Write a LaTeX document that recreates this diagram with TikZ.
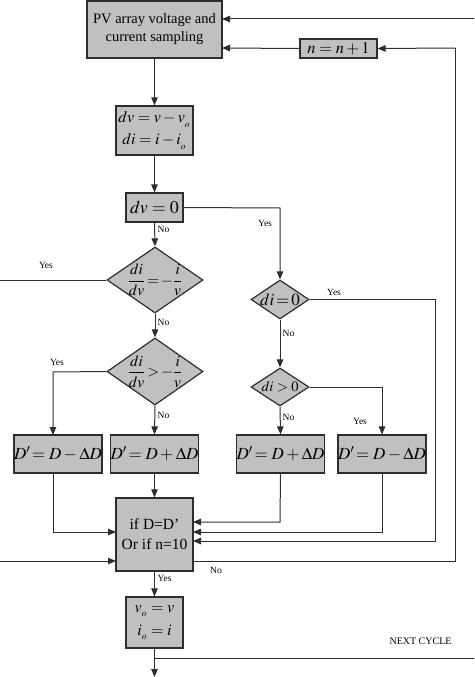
\documentclass[tikz,border=0pt]{standalone}
\usepackage{mathptmx}
\usepackage{fontspec}
\setmainfont{Liberation Serif}
\usetikzlibrary{shapes.geometric,arrows.meta}
\definecolor{boxfill}{RGB}{192,192,192}
\definecolor{edge}{RGB}{45,45,45}
\begin{document}
\begin{tikzpicture}[x=1pt,y=-1pt,
  box/.style={draw=edge,line width=1.2pt,fill=boxfill,rectangle,inner sep=0pt,align=center},
  dia/.style={draw=edge,line width=1.2pt,fill=boxfill,diamond,inner sep=0pt},
  conn/.style={draw=edge,line width=1pt},
  arr/.style={conn,-{Triangle[length=8pt,width=6.5pt]}},
  lab/.style={font=\fontsize{9.5}{11}\selectfont,inner sep=0pt}
]
\useasboundingbox (0,0) rectangle (474,677);
% nodes
\node[box,minimum width=135pt,minimum height=57pt,font=\fontsize{14.5}{18}\selectfont] (pv) at (154.5,29.5) {PV array voltage and\\current sampling};
\node[box,minimum width=77pt,minimum height=19pt,font=\fontsize{16.5}{18}\selectfont] (nb) at (338.5,48.5) {$n=n+1$};
\node[box,minimum width=77pt,minimum height=49pt,font=\fontsize{16}{24}\selectfont] (dv) at (154.5,130.5) {$dv=v-v_{_o}$\\[-2pt]$di=i-i_{_o}$};
\node[box,minimum width=57pt,minimum height=29pt,font=\fontsize{18}{20}\selectfont] (dv0) at (154.5,207.5) {$dv=0$};
\node[dia,minimum width=96pt,minimum height=66pt,label={[font=\fontsize{15.5}{18}\selectfont]center:$\displaystyle\frac{di}{dv}\!=\!-\frac{i}{v}$}] (d1) at (155,280) {};
\node[dia,minimum width=96pt,minimum height=67pt,label={[font=\fontsize{15.5}{18}\selectfont]center:$\displaystyle\frac{di}{dv}\!>\!-\frac{i}{v}$}] (d2) at (155,371.5) {};
\node[dia,minimum width=58pt,minimum height=39pt,label={[font=\fontsize{17}{18}\selectfont]center:$di\!=\!0$}] (d3) at (280,299.5) {};
\node[dia,minimum width=58pt,minimum height=38pt,label={[font=\fontsize{14.5}{16}\selectfont]center:$di>0$}] (d4) at (280,387) {};
\node[box,minimum width=88pt,minimum height=38pt,font=\fontsize{17}{20}\selectfont] (ba) at (58,454) {$D'\!=D-\Delta D$};
\node[box,minimum width=87pt,minimum height=38pt,font=\fontsize{17}{20}\selectfont] (bb) at (154.5,454) {$D'\!=D+\Delta D$};
\node[box,minimum width=87pt,minimum height=38pt,font=\fontsize{17}{20}\selectfont] (bc) at (280.5,454) {$D'\!=D+\Delta D$};
\node[box,minimum width=88pt,minimum height=38pt,font=\fontsize{17}{20}\selectfont] (bd) at (382,454) {$D'\!=D-\Delta D$};
\node[box,minimum width=77pt,minimum height=73pt,font=\fontsize{15.5}{20}\selectfont] (ifb) at (154.5,534.5) {if D=D’\\Or if n=10};
\node[box,minimum width=57pt,minimum height=51pt,font=\fontsize{16}{25}\selectfont] (vo) at (154.5,622.5) {$v_{_o}=v$\\[-2pt]$i_{_o}=i$};
% coordinates
\coordinate (pin1) at (474,19);
\coordinate (pvin1) at (222,19);
\coordinate (pvin2) at (222,48);
\coordinate (rloop) at (455,48);
\coordinate (rloopb) at (455,561);
\coordinate (ifno) at (193,561);
\coordinate (yesR) at (280,208);
\coordinate (lout) at (0,280);
\coordinate (lin) at (0,561);
\coordinate (ifL1) at (116,532);
\coordinate (ifL2) at (116,561);
\coordinate (aL) at (53,372);
\coordinate (aTop) at (53,435);
\coordinate (aBot) at (53,473);
\coordinate (aTurn) at (53,532);
\coordinate (y3a) at (435,299.5);
\coordinate (y3b) at (435,541);
\coordinate (ifR3) at (193,541);
\coordinate (y4a) at (382,387);
\coordinate (cTurn) at (280,522);
\coordinate (ifR1) at (193,522);
\coordinate (dTurn) at (382,532);
\coordinate (ifR2) at (193,532);
\coordinate (bottom) at (154.5,677);
\coordinate (ncA) at (154.5,658);
\coordinate (ncB) at (474,658);
% connectors
\draw[arr] (pin1) -- (pvin1);
\draw[arr] (nb.west) -- (pvin2);
\draw[arr] (rloop) -- (nb.east);
\draw[conn] (ifno) -- (rloopb) -- (rloop);
\draw[arr] (pv.south) -- (dv.north);
\draw[arr] (dv.south) -- (dv0.north);
\draw[arr] (dv0.south) -- (d1.north);
\draw[arr] (dv0.east) -- (yesR) -- (d3.north);
\draw[arr] (d1.south) -- (d2.north);
\draw[conn] (d1.west) -- (lout);
\draw[arr] (d2.west) -- (aL) -- (aTop);
\draw[arr] (d2.south) -- (bb.north);
\draw[arr] (d3.south) -- (d4.north);
\draw[arr] (d3.east) -- (y3a) -- (y3b) -- (ifR3);
\draw[arr] (d4.south) -- (bc.north);
\draw[arr] (d4.east) -- (y4a) -- (bd.north);
\draw[arr] (aBot) -- (aTurn) -- (ifL1);
\draw[arr] (lin) -- (ifL2);
\draw[arr] (bb.south) -- (ifb.north);
\draw[arr] (bc.south) -- (cTurn) -- (ifR1);
\draw[arr] (bd.south) -- (dTurn) -- (ifR2);
\draw[arr] (ifb.south) -- (vo.north);
\draw[arr] (vo.south) -- (bottom);
\draw[conn] (ncA) -- (ncB);
% labels
\node[lab,anchor=west] (l1) at (157.5,229) {No};
\node[lab] (l2) at (265,223) {Yes};
\node[lab] (l3) at (46,265) {Yes};
\node[lab,anchor=west] (l4) at (157.5,322) {No};
\node[lab] (l5) at (57,362) {Yes};
\node[lab,anchor=west] (l6) at (157.5,415) {No};
\node[lab] (l7) at (334,292.5) {Yes};
\node[lab,anchor=west] (l8) at (282.5,333) {No};
\node[lab,anchor=west] (l9) at (282.5,417) {No};
\node[lab] (l10) at (360,421) {Yes};
\node[lab] (l11) at (216,570) {No};
\node[lab,anchor=west] (l12) at (157.5,578) {Yes};
\node[lab,font=\fontsize{10}{12}\selectfont] (l13) at (420.5,641) {NEXT CYCLE};
\end{tikzpicture}
\end{document}
